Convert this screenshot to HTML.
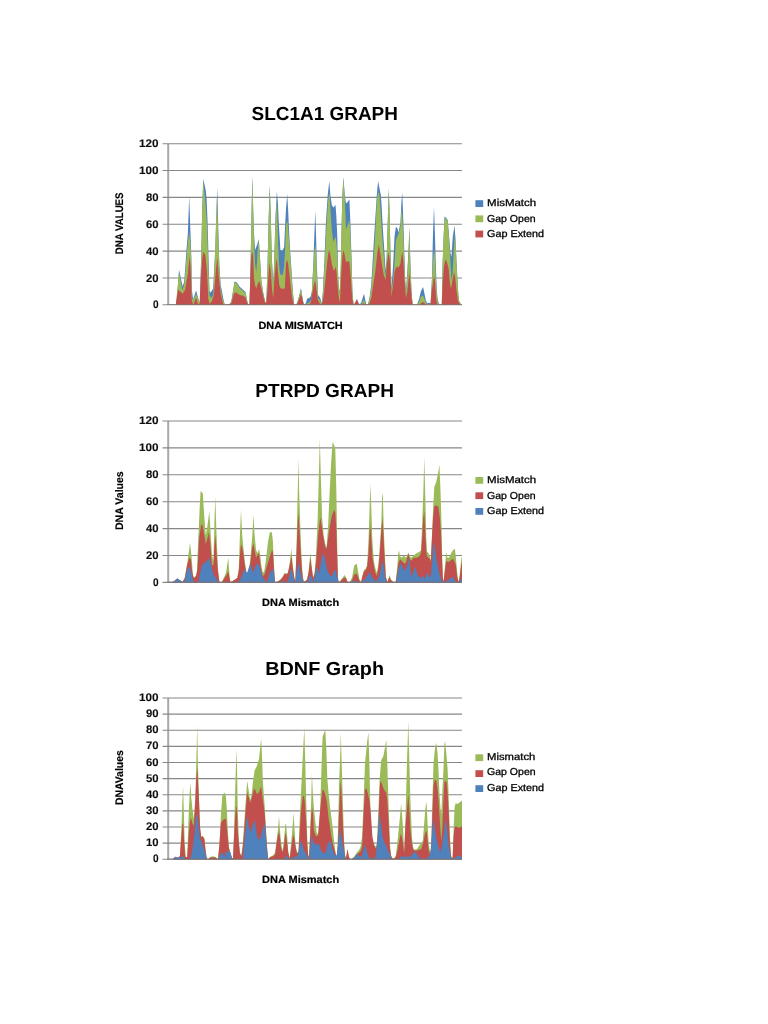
<!DOCTYPE html>
<html><head><meta charset="utf-8"><style>
html,body{margin:0;padding:0;background:#fff;width:768px;height:1024px;overflow:hidden}
svg{display:block;font-family:"Liberation Sans",sans-serif;text-rendering:geometricPrecision}
</style></head><body>
<svg width="768" height="1024" viewBox="0 0 768 1024">
<defs><filter id="bl" x="0" y="0" width="1" height="1"><feGaussianBlur stdDeviation="0.4"/></filter></defs>
<rect width="768" height="1024" fill="#fff"/>
<g filter="url(#bl)">
<rect width="768" height="1024" fill="#fff"/>
<text x="251.6" y="119.5" font-size="19.0" font-weight="bold" textLength="146.29999999999998" lengthAdjust="spacingAndGlyphs" fill="#000">SLC1A1 GRAPH</text>
<line x1="168.2" y1="143.7" x2="168.2" y2="304.7" stroke="#a9a9a9" stroke-width="2"/>
<line x1="162.5" y1="143.7" x2="462" y2="143.7" stroke="#878787" stroke-width="1.1"/>
<line x1="162.5" y1="170.55" x2="462" y2="170.55" stroke="#878787" stroke-width="1.1"/>
<line x1="162.5" y1="197.4" x2="462" y2="197.4" stroke="#878787" stroke-width="1.1"/>
<line x1="162.5" y1="224.25" x2="462" y2="224.25" stroke="#878787" stroke-width="1.1"/>
<line x1="162.5" y1="251.10000000000002" x2="462" y2="251.10000000000002" stroke="#878787" stroke-width="1.1"/>
<line x1="162.5" y1="277.95" x2="462" y2="277.95" stroke="#878787" stroke-width="1.1"/>
<line x1="162.5" y1="304.8" x2="462" y2="304.8" stroke="#878787" stroke-width="1.1"/>
<polygon fill="#4f81bd" points="168.2,304.7 175.6,304.7 176.7,303.3 179.0,269.8 180.8,278.0 182.5,286.3 184.2,282.1 186.5,250.0 187.9,232.3 189.2,196.0 190.2,225.4 191.2,252.8 192.0,291.0 193.1,299.2 196.1,290.4 198.5,299.2 199.9,303.3 201.3,250.0 202.2,209.0 203.2,178.9 204.6,185.1 205.9,191.2 206.7,200.8 207.7,225.4 208.7,263.7 209.5,291.0 210.8,292.4 213.2,288.3 215.2,250.0 217.3,187.1 218.2,225.4 219.3,263.7 220.7,285.6 222.0,291.0 223.4,299.2 224.8,304.7 226.0,304.7 230.1,304.4 231.7,299.2 234.5,281.5 236.9,282.6 239.7,286.7 243.1,289.7 245.4,291.7 246.8,297.9 247.9,304.7 249.5,304.7 250.6,263.7 251.6,209.0 252.4,176.2 253.2,209.0 254.0,233.6 255.1,250.0 257.2,244.6 258.8,239.1 259.9,255.5 261.3,280.1 262.9,291.0 265.0,301.3 266.3,303.3 267.4,270.5 268.7,215.8 269.7,185.1 270.6,209.0 271.8,256.9 273.2,284.2 274.1,263.7 275.5,215.8 276.9,191.2 277.9,203.5 279.0,226.8 280.4,250.0 282.3,250.7 284.1,247.3 285.1,225.4 286.0,209.0 287.2,194.0 288.1,209.0 289.0,229.5 290.1,250.0 291.5,270.5 292.8,291.0 294.2,304.7 296.3,304.7 298.3,299.2 301.0,288.3 302.7,299.2 303.8,304.7 305.8,303.3 307.2,298.6 309.2,297.9 310.6,296.5 312.0,291.0 313.3,263.7 314.3,236.4 315.3,210.4 316.1,236.4 316.8,263.7 318.1,295.1 320.2,297.9 321.8,303.3 322.9,291.0 324.3,263.7 325.9,222.7 327.7,195.3 329.3,181.0 330.4,195.3 331.8,204.9 333.2,207.6 334.5,206.3 335.5,204.9 336.3,215.8 337.3,236.4 338.2,277.4 339.3,291.0 340.4,288.3 341.4,236.4 342.3,195.3 343.4,176.9 344.8,195.3 346.0,203.5 347.4,202.2 349.4,199.4 350.4,222.7 351.5,256.9 352.4,291.0 353.5,304.7 354.9,303.3 356.9,299.2 359.0,304.0 361.0,303.3 363.1,296.5 364.0,293.8 365.1,299.2 366.5,304.7 367.9,304.7 369.5,297.9 371.3,284.2 373.3,250.0 375.0,222.7 376.8,195.3 378.1,181.0 379.5,188.5 380.9,195.3 381.8,209.0 382.9,229.5 384.3,250.0 385.6,270.5 386.7,256.9 387.7,222.7 388.7,188.5 389.5,209.0 390.4,250.0 391.5,288.3 393.2,263.7 394.5,236.4 395.9,226.8 397.3,228.2 398.6,232.3 400.4,222.7 401.4,202.2 402.3,192.6 403.4,222.7 405.1,277.4 406.0,291.0 406.0,291.0 407.4,270.5 408.5,250.0 409.4,226.8 410.4,263.7 411.5,291.0 412.6,304.7 416.9,304.7 419.0,299.2 421.0,291.0 423.1,286.9 424.5,293.8 425.8,300.6 427.2,303.3 429.2,302.7 430.6,303.3 432.0,277.4 432.9,236.4 434.0,206.3 435.0,236.4 435.8,263.7 436.8,291.0 437.7,299.2 438.8,303.3 440.2,304.7 441.8,304.7 442.6,263.7 443.6,236.4 444.6,216.5 446.3,217.9 447.7,219.9 449.1,236.4 450.4,252.8 451.4,256.9 452.8,236.4 454.5,225.4 455.5,239.1 456.6,263.7 457.7,284.2 458.6,299.2 460.0,303.3 462.0,304.7"/>
<polygon fill="#9bbb59" points="168.2,304.7 175.8,304.7 179.0,272.6 181.0,282.8 182.5,290.4 184.5,282.8 187.2,250.0 189.0,232.3 190.1,240.5 191.3,258.2 192.0,297.9 193.3,299.9 196.1,293.8 198.5,299.9 200.2,303.3 201.3,252.8 202.2,211.7 203.2,181.0 204.3,191.2 205.6,204.9 207.0,225.4 208.4,266.4 209.5,295.1 211.1,297.9 213.2,295.1 215.2,250.0 216.9,195.3 217.9,225.4 219.3,263.7 220.7,288.3 222.7,299.2 224.8,304.7 226.0,304.7 230.1,304.4 231.7,299.5 234.5,282.1 236.9,283.5 239.7,288.3 243.1,290.8 245.4,293.1 246.8,298.6 247.9,304.7 249.5,304.7 250.6,263.7 251.6,209.0 252.4,176.9 253.2,210.4 254.0,239.1 255.1,263.7 256.3,271.9 257.7,250.0 258.8,240.5 259.9,256.9 261.3,280.1 262.9,291.0 265.0,301.7 266.3,303.3 267.4,270.5 268.7,219.9 269.7,187.1 270.6,211.7 271.8,258.2 273.2,285.6 274.1,266.4 275.5,219.9 276.9,198.1 277.9,236.4 279.0,263.7 280.0,273.3 281.4,275.3 282.7,274.6 284.1,266.4 285.1,250.0 286.0,225.4 287.1,219.9 288.1,228.2 289.4,244.6 290.8,263.7 292.2,284.2 293.5,299.2 294.2,304.7 296.3,304.7 298.3,299.2 301.0,289.0 302.7,299.2 303.8,304.7 305.8,304.4 307.2,303.3 309.2,302.7 311.3,299.2 312.7,277.4 314.0,255.5 315.1,244.6 316.1,252.8 317.0,277.4 318.1,297.9 320.2,300.6 321.8,304.0 322.9,293.8 324.6,263.7 326.3,229.5 328.0,202.2 329.3,191.2 330.4,209.0 331.8,229.5 333.2,241.8 334.5,239.1 335.5,236.4 336.6,244.6 337.7,263.7 338.6,284.2 339.6,293.8 340.7,263.7 342.0,209.0 343.4,177.6 344.8,198.1 346.0,229.5 347.4,225.4 349.4,219.9 350.4,236.4 351.5,261.0 352.4,291.0 353.5,304.7 354.9,304.0 356.9,300.6 359.0,304.4 361.0,304.4 363.1,301.3 364.0,299.2 365.1,302.7 366.5,304.7 367.9,304.7 369.5,299.2 371.3,288.3 373.3,263.7 375.0,236.4 376.8,202.2 378.1,191.2 379.5,195.3 380.9,215.8 382.2,236.4 383.6,252.8 385.6,277.4 386.7,256.9 387.7,222.7 388.7,188.5 389.5,209.0 390.4,250.0 391.5,291.0 393.2,280.1 394.5,263.7 395.9,240.5 397.3,236.4 398.6,233.6 400.4,226.8 401.4,209.0 402.3,215.8 403.4,236.4 405.1,280.1 406.0,292.4 406.0,292.4 407.4,274.6 408.5,255.5 409.4,228.2 410.4,265.1 411.5,292.4 412.6,304.7 416.9,304.7 419.0,302.0 421.0,296.5 423.1,295.8 424.5,299.2 425.8,302.7 427.2,304.0 430.6,304.0 431.7,284.2 432.9,263.7 434.0,248.7 435.0,256.9 435.8,277.4 436.8,295.1 438.1,303.3 440.2,304.7 441.8,304.7 442.6,263.7 443.6,236.4 444.6,217.2 446.3,219.3 447.7,221.3 449.1,239.1 450.4,261.0 451.4,280.1 452.5,274.6 453.8,250.0 454.9,233.6 455.9,250.0 456.9,270.5 457.9,288.3 459.3,302.0 462.0,304.7"/>
<polygon fill="#c0504d" points="168.2,304.7 175.8,304.7 178.0,289.7 180.4,291.7 182.7,293.8 185.1,289.7 187.9,273.3 189.5,256.2 190.6,266.4 191.7,299.2 193.1,304.7 194.0,303.3 196.1,297.2 197.7,303.3 199.5,304.7 200.9,277.4 202.2,258.2 203.6,251.7 205.4,255.5 207.0,271.9 208.4,299.2 209.7,304.0 211.8,301.3 213.8,295.1 215.9,270.5 217.3,256.9 218.6,274.6 220.7,293.8 223.4,304.7 226.0,304.7 231.5,303.3 232.8,297.2 234.5,292.4 236.9,293.1 239.7,295.1 243.1,295.8 245.4,297.2 247.2,302.7 248.6,304.7 249.5,304.7 250.3,277.4 251.3,255.5 252.0,251.4 253.1,255.5 254.0,277.4 255.1,285.6 256.3,288.3 258.1,282.8 259.5,281.5 261.3,288.3 262.9,295.1 265.0,302.7 266.3,303.3 267.4,291.0 268.7,271.9 269.7,262.3 270.8,271.9 272.2,291.0 273.2,297.9 274.5,277.4 275.9,263.7 276.9,258.2 277.9,271.9 279.3,285.6 280.7,288.3 282.7,289.0 284.8,288.3 286.0,263.7 287.1,259.6 288.1,263.7 289.4,274.6 290.8,286.9 292.2,297.9 293.5,303.3 294.9,304.7 296.9,304.7 299.0,299.2 301.0,293.8 302.4,299.2 303.8,304.7 305.8,304.4 307.9,304.4 310.6,303.3 312.7,291.0 314.0,284.2 315.1,280.1 316.3,288.3 317.7,299.2 319.5,303.3 321.8,304.4 323.2,299.2 325.0,284.2 327.0,263.7 328.4,252.8 329.5,250.0 330.4,255.5 331.8,263.7 333.2,269.2 334.5,270.5 335.5,266.4 336.6,271.9 337.7,286.9 339.0,299.2 340.0,302.0 341.0,277.4 342.3,256.9 343.4,250.0 344.8,255.5 346.0,262.3 348.1,261.0 349.4,262.3 350.8,277.4 352.2,297.9 353.5,304.7 354.9,303.3 356.9,299.2 359.0,304.7 361.0,304.7 363.1,303.3 365.1,304.0 367.9,304.7 369.5,303.3 371.3,297.9 373.3,284.2 375.4,270.5 377.4,252.8 378.8,244.6 380.2,252.8 381.8,263.7 383.6,274.6 385.6,280.1 387.0,263.7 388.4,252.8 389.5,256.9 390.4,270.5 391.5,296.5 393.2,284.2 394.5,271.9 395.9,267.8 397.3,266.4 398.6,267.8 400.4,263.7 401.4,256.9 402.3,251.4 403.4,261.0 405.1,288.3 406.0,297.9 406.0,297.9 407.4,291.0 408.5,280.1 409.4,273.3 410.4,284.2 411.5,297.9 412.6,304.7 416.9,304.7 419.0,304.7 421.0,303.3 423.1,302.0 424.5,303.3 426.5,304.7 430.6,304.7 431.7,291.0 432.9,284.2 434.0,276.0 435.0,280.1 436.1,297.9 437.4,304.7 441.8,304.7 442.6,284.2 444.0,266.4 445.4,259.6 447.0,262.3 448.7,269.2 450.0,284.2 451.1,288.3 452.5,280.1 454.1,271.9 455.2,277.4 456.6,291.0 457.9,300.6 460.0,304.7 462.0,304.7"/>
<line x1="167.2" y1="304.5" x2="462" y2="304.5" stroke="#7a6a6a" stroke-opacity="0.6" stroke-width="1.2"/>
<text x="139.0" y="147.3" font-size="11" font-weight="bold" textLength="19.6" lengthAdjust="spacingAndGlyphs" fill="#111" stroke="#111" stroke-width="0.12">120</text>
<text x="139.0" y="174.2" font-size="11" font-weight="bold" textLength="19.6" lengthAdjust="spacingAndGlyphs" fill="#111" stroke="#111" stroke-width="0.12">100</text>
<text x="146.0" y="201.0" font-size="11" font-weight="bold" textLength="12.6" lengthAdjust="spacingAndGlyphs" fill="#111" stroke="#111" stroke-width="0.12">80</text>
<text x="146.0" y="227.8" font-size="11" font-weight="bold" textLength="12.6" lengthAdjust="spacingAndGlyphs" fill="#111" stroke="#111" stroke-width="0.12">60</text>
<text x="146.0" y="254.7" font-size="11" font-weight="bold" textLength="12.6" lengthAdjust="spacingAndGlyphs" fill="#111" stroke="#111" stroke-width="0.12">40</text>
<text x="146.0" y="281.6" font-size="11" font-weight="bold" textLength="12.6" lengthAdjust="spacingAndGlyphs" fill="#111" stroke="#111" stroke-width="0.12">20</text>
<text x="153.0" y="308.4" font-size="11" font-weight="bold" textLength="5.6" lengthAdjust="spacingAndGlyphs" fill="#111" stroke="#111" stroke-width="0.12">0</text>
<text transform="translate(123.4,254.2) rotate(-90)" x="0" y="0" font-size="11" font-weight="bold" textLength="61.7" lengthAdjust="spacingAndGlyphs" fill="#000" stroke="#000" stroke-width="0.15">DNA VALUES</text>
<text x="258.5" y="329.3" font-size="10.4" font-weight="bold" textLength="84.2" lengthAdjust="spacingAndGlyphs" fill="#000" stroke="#000" stroke-width="0.2">DNA MISMATCH</text>
<rect x="475.4" y="200.2" width="7.8" height="6.8" fill="#4f81bd"/>
<text x="487.1" y="206.3" font-size="10" textLength="49.1" lengthAdjust="spacingAndGlyphs" fill="#000" stroke="#000" stroke-width="0.3">MisMatch</text>
<rect x="475.4" y="215.4" width="7.8" height="6.8" fill="#9bbb59"/>
<text x="487.1" y="221.6" font-size="10" textLength="48.5" lengthAdjust="spacingAndGlyphs" fill="#000" stroke="#000" stroke-width="0.3">Gap Open</text>
<rect x="475.4" y="230.6" width="7.8" height="6.8" fill="#c0504d"/>
<text x="487.1" y="236.6" font-size="10" textLength="56.9" lengthAdjust="spacingAndGlyphs" fill="#000" stroke="#000" stroke-width="0.3">Gap Extend</text>
<text x="255.3" y="396.5" font-size="19.0" font-weight="bold" textLength="138.59999999999997" lengthAdjust="spacingAndGlyphs" fill="#000">PTRPD GRAPH</text>
<line x1="168.2" y1="421.0" x2="168.2" y2="582.4" stroke="#a9a9a9" stroke-width="2"/>
<line x1="162.5" y1="421.0" x2="462" y2="421.0" stroke="#878787" stroke-width="1.1"/>
<line x1="162.5" y1="447.9" x2="462" y2="447.9" stroke="#878787" stroke-width="1.1"/>
<line x1="162.5" y1="474.8" x2="462" y2="474.8" stroke="#878787" stroke-width="1.1"/>
<line x1="162.5" y1="501.7" x2="462" y2="501.7" stroke="#878787" stroke-width="1.1"/>
<line x1="162.5" y1="528.6" x2="462" y2="528.6" stroke="#878787" stroke-width="1.1"/>
<line x1="162.5" y1="555.5" x2="462" y2="555.5" stroke="#878787" stroke-width="1.1"/>
<line x1="162.5" y1="582.4" x2="462" y2="582.4" stroke="#878787" stroke-width="1.1"/>
<polygon fill="#9bbb59" points="168.2,582.4 172.0,582.3 174.3,581.1 177.3,578.6 180.3,580.4 182.5,581.9 184.8,577.4 187.1,563.8 190.1,542.8 191.6,557.8 193.1,575.9 194.6,578.9 196.8,572.8 198.3,538.3 199.8,505.2 200.6,490.9 202.8,493.2 204.3,517.2 205.8,535.3 207.4,526.2 209.3,511.2 210.4,529.2 211.9,553.3 213.4,562.3 214.4,523.2 215.3,496.2 216.4,530.7 217.9,568.3 219.4,581.9 221.6,582.4 223.9,577.4 226.0,572.8 228.3,557.8 229.3,572.8 230.5,581.9 232.8,581.1 235.0,579.6 237.3,578.1 238.8,568.3 239.8,538.3 241.0,509.7 242.2,535.3 243.3,547.3 244.8,560.8 246.3,571.3 247.8,577.4 249.3,568.3 250.8,553.3 252.3,535.3 253.5,515.0 254.6,535.3 256.1,550.3 257.6,553.3 259.1,548.8 260.3,556.3 261.3,565.3 262.8,572.8 264.3,571.3 265.8,560.8 268.1,541.3 269.9,532.2 271.9,532.2 272.9,541.3 273.8,562.3 274.9,581.9 276.4,582.3 278.6,581.1 280.9,578.9 283.1,575.9 284.9,572.8 286.0,573.6 287.8,572.8 289.8,562.3 291.3,548.8 292.8,565.3 294.3,577.4 295.3,581.9 296.5,545.8 297.7,493.2 298.5,458.6 299.2,493.2 300.3,526.2 301.3,550.3 302.5,574.4 303.7,581.1 305.5,581.1 307.1,578.9 308.6,571.3 310.4,552.5 311.6,565.3 313.1,577.4 314.6,572.8 316.1,553.3 317.6,520.2 318.8,478.1 319.8,439.0 320.9,478.1 322.1,517.2 323.6,535.3 325.4,544.3 326.6,547.3 328.1,526.2 329.6,493.2 331.1,463.1 332.6,442.0 334.1,445.0 335.3,449.5 336.4,493.2 337.1,538.3 337.9,577.4 338.6,582.3 340.1,581.1 342.4,578.1 344.6,575.1 346.0,577.4 347.5,581.9 349.8,582.3 352.0,577.4 354.3,565.3 356.8,563.8 358.0,571.3 359.5,579.6 361.0,581.9 362.5,575.9 364.0,569.8 365.5,569.1 367.1,565.3 368.6,538.3 369.6,508.2 370.4,484.1 371.3,508.2 372.3,538.3 373.8,560.8 375.3,568.3 376.8,572.8 378.3,565.3 379.8,545.8 381.3,523.2 382.1,496.2 382.8,493.2 383.6,523.2 384.8,553.3 385.8,575.9 387.4,581.9 388.9,577.4 389.6,575.1 391.1,579.6 393.4,581.9 395.6,582.3 397.1,568.3 398.3,553.3 398.9,550.3 400.1,556.3 401.6,557.8 403.1,556.3 404.6,556.3 406.0,557.8 408.3,552.5 409.8,556.3 411.3,557.8 413.5,555.6 416.5,553.3 419.5,551.8 421.0,550.3 422.2,523.2 423.3,493.2 424.3,457.1 425.2,493.2 426.3,538.3 427.1,551.8 428.6,553.3 430.1,556.3 430.8,560.8 431.9,538.3 433.1,508.2 434.3,487.1 436.1,482.6 438.3,472.1 439.4,464.6 440.3,485.6 441.3,515.7 442.1,553.3 442.8,577.4 443.6,581.9 444.8,568.3 446.3,551.8 447.4,557.8 448.9,557.8 451.1,553.3 452.9,550.3 454.9,548.8 455.9,557.8 457.1,571.3 458.3,581.9 459.4,577.4 460.4,568.3 461.3,557.8 461.9,557.8 462.0,582.4"/>
<polygon fill="#c0504d" points="168.2,582.4 172.0,582.3 174.3,581.1 177.3,578.6 180.3,580.4 182.5,581.9 184.8,578.1 187.1,565.3 189.3,557.8 190.8,559.3 192.3,572.8 193.8,578.1 196.1,575.9 197.6,568.3 199.1,538.3 201.3,524.0 202.8,526.2 204.3,535.3 205.8,544.3 207.4,538.3 208.9,532.2 210.4,544.3 211.9,565.3 213.4,565.3 214.4,545.8 215.3,535.3 216.4,550.3 217.9,571.3 219.4,581.9 221.6,582.4 223.9,578.9 226.0,575.9 228.3,571.3 229.3,577.4 230.5,582.3 232.8,581.1 235.0,579.6 237.3,578.1 238.8,571.3 239.8,556.3 241.0,544.3 242.2,547.3 243.3,553.3 244.8,565.3 246.3,572.8 247.8,578.1 249.3,571.3 250.8,559.3 252.3,547.3 253.5,543.5 254.6,550.3 256.1,557.8 257.6,554.8 259.1,553.3 260.3,563.8 261.3,569.8 262.8,575.9 264.3,575.1 265.8,569.8 268.1,562.3 270.4,554.8 271.9,550.3 272.9,551.8 273.8,565.3 274.9,581.9 276.4,582.3 278.6,581.1 280.9,579.6 283.1,576.6 284.9,573.6 286.0,574.4 287.8,573.6 289.8,565.3 291.3,556.3 292.8,568.3 294.3,578.1 295.3,581.9 296.5,553.3 297.7,523.2 298.5,512.7 299.5,530.7 300.6,550.3 301.8,568.3 302.8,577.4 303.7,581.9 305.5,581.1 307.1,579.6 308.6,572.8 310.4,557.8 311.6,568.3 313.1,578.1 314.6,574.4 316.1,562.3 317.6,541.3 319.1,526.2 320.3,517.2 321.8,526.2 323.6,538.3 325.1,547.3 326.6,548.8 328.1,538.3 329.9,526.2 331.9,515.7 334.1,509.7 335.3,512.7 336.4,530.7 337.1,553.3 337.9,577.4 338.6,582.3 340.1,581.6 342.4,578.9 344.6,577.4 346.0,578.1 347.5,581.9 349.8,582.3 352.0,580.4 354.3,574.4 356.5,573.6 358.0,576.6 359.5,581.1 361.0,581.9 362.5,575.9 364.0,571.3 365.5,570.6 367.1,566.8 368.6,553.3 369.8,529.2 370.4,526.2 371.3,538.3 372.3,556.3 373.8,565.3 375.3,572.8 376.8,575.9 378.3,568.3 379.8,553.3 381.3,530.7 382.4,517.2 383.6,538.3 384.8,560.8 385.8,577.4 387.4,581.9 388.9,578.1 389.6,577.4 391.1,580.4 393.4,581.9 395.6,582.3 397.1,572.8 398.6,562.3 400.1,559.3 401.6,560.8 403.1,562.3 404.6,563.8 406.0,562.3 408.3,553.3 409.8,559.3 411.3,560.8 413.5,557.8 416.5,557.8 419.5,556.3 421.0,553.3 422.2,538.3 423.3,517.2 424.3,511.2 425.2,530.7 426.3,551.8 427.1,556.3 428.6,557.8 430.1,559.3 430.8,562.3 431.9,538.3 433.1,517.2 434.3,506.7 436.1,505.2 438.3,506.7 439.8,517.2 440.9,530.7 441.8,553.3 442.8,577.4 443.6,581.9 444.8,571.3 446.3,560.8 448.1,562.3 450.4,560.8 451.9,559.3 453.4,559.3 454.9,562.3 455.9,565.3 457.1,575.9 458.3,581.9 459.4,578.9 460.4,571.3 461.3,563.8 461.9,562.3 462.0,582.4"/>
<polygon fill="#4f81bd" points="168.2,582.4 172.0,582.3 174.3,581.1 177.3,578.6 180.3,580.4 182.5,581.9 184.8,581.1 186.3,572.8 188.6,566.8 190.1,568.3 191.6,574.4 193.1,580.4 194.6,582.3 198.3,582.3 199.8,574.4 202.1,565.3 205.1,562.3 207.4,560.8 208.9,557.8 209.9,560.8 211.1,565.3 213.4,574.4 215.6,577.4 217.9,581.9 220.1,582.3 223.9,582.3 226.0,582.3 230.5,582.3 238.0,582.3 239.5,580.4 241.0,577.4 242.5,574.4 244.0,569.8 245.5,571.3 247.1,572.8 248.6,568.3 250.1,563.8 251.6,568.3 253.1,572.8 254.6,568.3 256.1,564.6 257.6,563.8 259.1,565.3 260.6,569.8 262.1,575.9 264.3,579.6 266.6,581.9 268.1,578.9 269.6,572.8 271.1,571.3 272.6,568.3 273.8,572.8 274.9,581.9 280.1,582.3 283.1,581.1 284.9,581.9 286.0,582.3 287.5,581.9 289.8,574.4 291.3,568.3 292.8,574.4 294.3,581.1 295.3,581.9 296.5,572.8 297.7,565.3 298.8,563.8 300.3,571.3 301.8,577.4 303.3,581.9 305.5,582.3 307.1,581.9 308.6,578.9 310.1,575.1 311.6,577.4 313.1,581.9 314.6,577.4 316.1,569.8 317.6,566.8 319.1,574.4 320.6,565.3 322.1,556.3 323.6,553.3 325.4,560.8 326.9,568.3 328.4,572.8 330.4,575.9 331.9,575.9 333.4,572.8 334.9,569.8 336.4,572.8 337.4,577.4 338.6,582.3 341.6,582.3 344.6,582.3 346.0,582.3 349.8,582.3 352.0,581.1 355.0,581.1 358.0,581.9 361.0,582.3 362.5,581.1 364.8,579.6 367.1,575.9 369.3,572.1 370.8,574.4 372.3,577.4 373.8,579.6 375.3,581.1 377.6,579.6 379.8,574.4 381.8,563.8 382.8,560.8 383.9,568.3 385.1,577.4 386.6,582.3 395.6,582.3 397.1,577.4 398.6,568.3 400.1,565.3 401.6,563.8 403.1,568.3 404.6,571.3 406.0,568.3 407.5,565.3 409.0,557.8 410.2,568.3 411.3,577.4 413.5,571.3 415.0,566.8 416.5,571.3 418.0,575.9 420.3,577.4 421.8,577.4 423.3,575.9 424.8,578.9 426.3,574.4 427.8,572.8 429.3,577.4 430.8,575.9 432.3,560.8 433.4,542.8 434.6,545.8 436.1,556.3 437.6,565.3 439.1,572.8 440.9,578.9 442.8,581.9 444.3,581.9 446.6,581.1 448.9,579.6 451.1,578.1 452.6,576.6 454.1,579.6 456.4,581.9 458.6,582.3 460.1,581.1 461.9,578.1 462.0,582.4"/>
<line x1="167.2" y1="582.2" x2="462" y2="582.2" stroke="#7a6a6a" stroke-opacity="0.6" stroke-width="1.2"/>
<text x="139.0" y="424.1" font-size="11" font-weight="bold" textLength="19.6" lengthAdjust="spacingAndGlyphs" fill="#111" stroke="#111" stroke-width="0.12">120</text>
<text x="139.0" y="451.0" font-size="11" font-weight="bold" textLength="19.6" lengthAdjust="spacingAndGlyphs" fill="#111" stroke="#111" stroke-width="0.12">100</text>
<text x="146.0" y="477.9" font-size="11" font-weight="bold" textLength="12.6" lengthAdjust="spacingAndGlyphs" fill="#111" stroke="#111" stroke-width="0.12">80</text>
<text x="146.0" y="504.8" font-size="11" font-weight="bold" textLength="12.6" lengthAdjust="spacingAndGlyphs" fill="#111" stroke="#111" stroke-width="0.12">60</text>
<text x="146.0" y="531.7" font-size="11" font-weight="bold" textLength="12.6" lengthAdjust="spacingAndGlyphs" fill="#111" stroke="#111" stroke-width="0.12">40</text>
<text x="146.0" y="558.6" font-size="11" font-weight="bold" textLength="12.6" lengthAdjust="spacingAndGlyphs" fill="#111" stroke="#111" stroke-width="0.12">20</text>
<text x="153.0" y="585.5" font-size="11" font-weight="bold" textLength="5.6" lengthAdjust="spacingAndGlyphs" fill="#111" stroke="#111" stroke-width="0.12">0</text>
<text transform="translate(122.9,530.0) rotate(-90)" x="0" y="0" font-size="11" font-weight="bold" textLength="58.7" lengthAdjust="spacingAndGlyphs" fill="#000" stroke="#000" stroke-width="0.15">DNA Values</text>
<text x="262" y="606.3" font-size="10.4" font-weight="bold" textLength="77.2" lengthAdjust="spacingAndGlyphs" fill="#000" stroke="#000" stroke-width="0.2">DNA Mismatch</text>
<rect x="475.4" y="477.0" width="7.8" height="6.8" fill="#9bbb59"/>
<text x="487.1" y="483.2" font-size="10" textLength="49.1" lengthAdjust="spacingAndGlyphs" fill="#000" stroke="#000" stroke-width="0.3">MisMatch</text>
<rect x="475.4" y="492.3" width="7.8" height="6.8" fill="#c0504d"/>
<text x="487.1" y="498.6" font-size="10" textLength="48.5" lengthAdjust="spacingAndGlyphs" fill="#000" stroke="#000" stroke-width="0.3">Gap Open</text>
<rect x="475.4" y="508.0" width="7.8" height="6.8" fill="#4f81bd"/>
<text x="487.1" y="513.8" font-size="10" textLength="56.9" lengthAdjust="spacingAndGlyphs" fill="#000" stroke="#000" stroke-width="0.3">Gap Extend</text>
<text x="265.3" y="674.5" font-size="19.0" font-weight="bold" textLength="118.69999999999999" lengthAdjust="spacingAndGlyphs" fill="#000">BDNF Graph</text>
<line x1="168.2" y1="698.0" x2="168.2" y2="859.3" stroke="#a9a9a9" stroke-width="2"/>
<line x1="162.5" y1="698.0" x2="462" y2="698.0" stroke="#878787" stroke-width="1.1"/>
<line x1="162.5" y1="714.13" x2="462" y2="714.13" stroke="#878787" stroke-width="1.1"/>
<line x1="162.5" y1="730.26" x2="462" y2="730.26" stroke="#878787" stroke-width="1.1"/>
<line x1="162.5" y1="746.39" x2="462" y2="746.39" stroke="#878787" stroke-width="1.1"/>
<line x1="162.5" y1="762.52" x2="462" y2="762.52" stroke="#878787" stroke-width="1.1"/>
<line x1="162.5" y1="778.65" x2="462" y2="778.65" stroke="#878787" stroke-width="1.1"/>
<line x1="162.5" y1="794.78" x2="462" y2="794.78" stroke="#878787" stroke-width="1.1"/>
<line x1="162.5" y1="810.91" x2="462" y2="810.91" stroke="#878787" stroke-width="1.1"/>
<line x1="162.5" y1="827.04" x2="462" y2="827.04" stroke="#878787" stroke-width="1.1"/>
<line x1="162.5" y1="843.17" x2="462" y2="843.17" stroke="#878787" stroke-width="1.1"/>
<line x1="162.5" y1="859.3" x2="462" y2="859.3" stroke="#878787" stroke-width="1.1"/>
<polygon fill="#9bbb59" points="168.2,859.3 172.6,859.2 175.5,856.7 177.7,857.7 179.9,856.3 181.4,829.2 182.4,799.9 183.1,786.7 183.9,814.5 184.7,843.8 185.8,857.0 187.2,857.0 188.7,814.5 189.7,792.6 190.5,782.3 191.2,797.0 192.4,808.7 193.8,818.9 195.3,799.9 196.3,763.3 197.2,724.5 197.9,763.3 199.0,799.9 200.0,829.2 201.2,836.5 202.6,835.8 204.4,838.0 205.5,849.7 206.7,858.5 208.5,859.2 209.9,857.0 212.9,856.3 215.8,857.0 218.0,859.2 219.5,843.8 220.9,814.5 222.4,795.5 224.6,792.6 226.0,797.0 226.7,807.2 227.8,829.2 228.9,846.8 230.4,852.6 231.9,857.7 233.0,858.5 234.1,829.2 235.1,792.6 236.0,763.3 236.5,749.4 237.1,770.6 237.7,807.2 238.9,840.9 239.9,852.6 241.4,855.5 242.8,843.8 244.3,821.9 245.8,799.9 247.2,780.8 248.7,791.1 250.2,799.9 251.6,794.0 253.1,780.8 254.6,770.6 256.8,766.2 259.0,758.9 260.4,745.7 261.2,739.1 261.9,753.0 262.9,782.3 263.8,794.0 264.8,807.2 265.8,826.3 267.0,846.8 268.2,859.2 269.9,857.0 272.9,855.5 275.1,852.6 276.5,840.9 278.0,829.2 279.0,816.0 279.9,829.2 280.9,840.9 282.4,851.2 283.9,840.9 285.3,824.8 286.0,823.3 287.2,836.5 288.2,851.2 289.7,858.5 291.1,843.8 292.6,826.3 293.6,813.1 294.5,829.2 295.5,843.8 297.0,852.6 298.5,851.2 299.9,814.5 301.4,785.2 302.8,755.9 304.3,728.1 305.3,763.3 306.2,799.9 307.2,836.5 308.3,857.0 309.1,854.1 310.2,829.2 311.2,799.9 311.9,773.5 312.8,792.6 313.8,807.2 315.3,821.9 316.8,833.6 318.2,833.6 320.0,814.5 321.4,770.6 322.6,736.9 324.1,732.5 325.3,730.3 326.3,748.6 327.3,777.9 328.5,792.6 329.9,805.7 331.4,817.5 332.9,829.2 334.3,843.8 335.8,854.1 337.0,855.5 338.0,829.2 339.0,785.2 340.2,755.9 340.8,732.5 341.7,763.3 342.8,799.9 343.9,836.5 344.9,854.1 346.0,858.5 347.5,849.0 348.9,857.0 350.4,859.2 352.6,858.5 354.8,855.5 357.0,852.6 359.2,849.7 360.6,846.8 362.1,836.5 363.6,799.9 365.0,763.3 367.2,741.3 368.4,732.5 369.4,763.3 370.2,799.9 371.2,829.2 372.4,840.9 373.8,843.8 375.3,846.8 376.8,843.8 378.2,814.5 379.7,777.9 381.2,760.3 383.4,755.9 384.8,748.6 386.3,739.8 387.3,763.3 388.2,792.6 389.2,821.9 389.9,843.8 391.1,855.5 392.6,858.5 394.3,858.5 395.8,855.5 397.3,843.8 398.7,829.2 400.2,814.5 401.1,803.5 402.0,814.5 403.1,829.2 404.2,852.6 405.3,821.9 406.0,798.4 407.2,755.9 408.3,720.8 409.2,755.9 410.4,799.9 411.9,836.5 413.3,848.2 414.8,849.7 417.0,849.0 418.5,846.8 420.6,843.8 422.8,840.9 424.3,821.9 425.5,807.2 426.5,801.4 427.5,821.9 428.7,843.8 430.2,852.6 431.2,843.8 432.4,799.9 433.5,763.3 435.0,748.6 436.3,742.8 437.5,753.0 438.5,770.6 439.4,792.6 440.4,807.2 441.2,814.5 442.3,792.6 443.4,770.6 444.4,744.2 445.1,741.3 446.3,753.0 447.7,770.6 448.8,799.9 449.9,836.5 451.1,855.5 452.6,858.5 453.6,829.2 454.6,807.2 455.8,802.8 457.3,804.3 459.0,802.8 460.9,801.4 462.0,800.6 462.0,859.3"/>
<polygon fill="#c0504d" points="168.2,859.3 172.6,859.2 175.5,856.7 177.7,857.7 179.9,856.3 181.4,836.5 182.4,823.3 183.3,824.8 184.3,843.8 185.3,857.0 187.2,857.0 188.7,836.5 189.7,823.3 190.9,817.5 192.4,823.3 193.8,826.3 195.3,799.9 196.3,777.9 197.2,767.7 197.9,777.9 199.0,799.9 200.0,826.3 201.2,837.2 202.6,836.5 204.4,839.4 205.5,849.7 206.7,858.5 208.5,859.2 209.9,857.7 212.9,857.3 215.8,857.7 218.0,859.2 219.5,843.8 220.9,823.3 222.4,820.4 224.6,818.9 226.0,818.9 226.7,826.3 227.8,838.0 228.9,848.2 230.4,853.4 231.9,857.7 233.0,858.5 234.1,836.5 235.1,817.5 236.0,807.2 236.5,805.7 237.1,814.5 237.7,829.2 238.9,843.8 239.9,853.4 241.4,856.3 242.8,846.8 244.3,829.2 245.8,807.2 247.2,792.6 248.7,797.0 250.2,802.8 251.6,798.4 253.1,792.6 254.6,788.2 256.8,794.0 259.0,792.6 260.4,788.2 261.2,786.7 261.9,792.6 262.9,799.9 263.8,805.7 264.8,814.5 265.8,829.2 267.0,846.8 268.2,859.2 269.9,857.3 272.9,856.3 275.1,854.8 276.5,843.8 278.0,835.0 279.0,832.1 279.9,836.5 280.9,846.8 282.4,852.6 283.9,846.8 285.3,833.6 286.0,835.0 287.2,843.8 288.2,852.6 289.7,858.5 291.1,848.2 292.6,838.0 293.6,835.0 294.5,839.4 295.5,846.8 297.0,853.4 298.5,852.6 299.9,829.2 301.4,807.2 302.8,797.0 303.9,795.5 305.0,802.8 306.2,821.9 307.2,843.8 308.3,857.0 309.1,855.5 310.2,836.5 311.2,814.5 312.1,807.2 313.1,814.5 313.8,829.2 315.3,835.0 316.8,836.5 318.2,835.0 319.7,814.5 321.2,799.9 322.6,789.6 324.1,791.1 325.5,795.5 327.0,802.8 328.5,817.5 329.9,826.3 331.4,836.5 332.9,843.8 334.3,848.2 335.8,854.8 337.0,856.3 338.0,843.8 339.0,814.5 340.2,788.2 340.8,780.8 341.7,797.0 342.8,821.9 343.9,843.8 344.9,855.5 346.0,858.5 347.5,849.0 348.9,857.0 350.4,859.2 352.6,858.5 354.8,857.0 357.0,854.1 359.2,852.6 360.6,851.2 362.1,846.8 363.6,814.5 365.0,789.6 366.5,788.2 368.0,794.0 369.4,799.9 370.9,814.5 372.4,836.5 373.8,843.8 375.3,848.2 376.8,846.8 378.2,829.2 379.7,788.2 380.4,780.8 381.9,783.8 383.4,788.2 384.8,791.1 386.3,792.6 387.3,799.9 388.2,814.5 389.2,832.1 389.9,848.2 391.1,856.3 392.6,858.5 394.3,858.5 395.8,857.0 397.3,851.2 398.7,843.8 400.2,836.5 401.1,833.6 402.0,838.0 403.1,843.8 404.2,853.4 405.3,829.2 406.0,820.4 407.2,807.2 408.3,794.0 409.2,807.2 410.4,829.2 411.9,843.8 413.3,849.7 414.8,850.4 417.0,850.4 419.2,849.7 421.4,849.0 423.6,840.9 425.0,833.6 426.5,830.6 427.5,839.4 428.7,849.7 430.2,854.8 431.2,846.8 432.4,814.5 433.5,785.2 435.0,779.4 436.3,780.8 437.5,788.2 438.5,799.9 439.4,814.5 440.4,829.2 441.2,840.9 442.3,829.2 443.4,799.9 444.4,782.3 445.5,780.8 446.7,782.3 447.7,794.0 448.8,814.5 449.9,843.8 451.1,857.0 452.6,858.5 453.6,836.5 454.6,827.7 455.8,826.3 457.3,827.0 459.0,827.7 460.9,827.0 462.0,826.3 462.0,859.3"/>
<polygon fill="#4f81bd" points="168.2,859.3 172.6,859.2 175.5,856.7 177.7,857.7 180.6,857.0 182.8,856.3 184.3,857.7 186.5,859.2 189.4,859.2 190.9,857.0 192.4,849.7 194.6,832.1 196.0,817.5 197.2,813.1 198.2,823.3 199.7,838.0 201.2,840.9 202.6,845.3 204.4,849.7 205.8,855.5 207.0,859.2 218.0,859.2 219.5,856.3 221.4,852.6 223.1,854.1 224.6,857.0 226.0,851.2 227.5,852.6 228.9,850.4 230.4,852.6 231.9,857.7 233.0,859.2 242.8,859.2 244.3,843.8 245.8,826.3 247.2,816.0 248.7,826.3 250.2,832.1 251.6,829.2 253.1,823.3 254.6,820.4 256.0,829.2 257.5,838.0 259.0,839.4 260.4,838.0 261.9,832.1 263.4,826.3 264.8,823.3 265.8,836.5 267.0,851.2 268.2,859.2 284.6,859.2 285.3,857.0 286.0,855.5 287.5,857.0 288.9,858.5 291.9,858.5 294.1,857.0 295.5,856.3 297.0,857.0 298.5,852.6 299.9,843.8 301.4,840.9 302.8,846.8 304.3,851.2 305.8,852.6 307.2,856.3 308.3,858.5 309.4,858.5 310.6,843.8 311.6,835.0 313.1,840.9 314.6,843.8 316.8,845.3 318.2,842.4 320.0,846.8 321.4,851.2 322.9,852.6 324.4,853.4 325.8,852.6 327.7,843.8 329.2,840.9 330.7,842.4 332.1,848.2 333.6,852.6 335.1,855.5 336.5,856.3 338.0,846.8 339.0,836.5 340.2,829.2 341.4,836.5 342.4,843.8 343.9,851.2 344.9,857.0 346.0,859.2 351.9,859.2 354.8,857.0 357.0,854.1 359.2,856.3 361.4,857.0 362.8,852.6 364.3,846.8 365.3,845.3 366.5,849.7 368.0,855.5 369.4,858.5 372.4,858.5 375.3,857.7 376.5,849.7 377.5,839.4 378.5,826.3 379.5,814.5 380.9,823.3 382.6,836.5 384.4,842.4 386.1,845.3 388.2,851.2 389.9,854.8 391.7,859.2 398.7,859.2 400.2,857.0 401.7,856.3 403.1,857.0 404.2,855.5 405.3,857.0 406.0,857.0 408.2,857.0 410.4,856.3 412.6,854.1 414.8,851.9 416.3,852.6 417.7,855.5 419.9,858.5 426.5,858.5 428.0,857.0 429.4,856.3 430.9,849.7 432.4,829.2 433.5,818.9 434.6,826.3 436.0,836.5 437.5,843.8 439.0,848.2 440.4,852.6 441.9,846.8 443.4,836.5 444.8,826.3 445.8,818.9 447.0,829.2 448.5,843.8 449.9,852.6 451.4,858.5 452.9,858.5 455.1,857.7 457.3,856.3 459.0,855.5 460.9,857.0 462.0,858.5 462.0,859.3"/>
<line x1="167.2" y1="859.1" x2="462" y2="859.1" stroke="#7a6a6a" stroke-opacity="0.6" stroke-width="1.2"/>
<text x="139.0" y="701.0" font-size="11" font-weight="bold" textLength="19.6" lengthAdjust="spacingAndGlyphs" fill="#111" stroke="#111" stroke-width="0.12">100</text>
<text x="146.0" y="717.1" font-size="11" font-weight="bold" textLength="12.6" lengthAdjust="spacingAndGlyphs" fill="#111" stroke="#111" stroke-width="0.12">90</text>
<text x="146.0" y="733.3" font-size="11" font-weight="bold" textLength="12.6" lengthAdjust="spacingAndGlyphs" fill="#111" stroke="#111" stroke-width="0.12">80</text>
<text x="146.0" y="749.4" font-size="11" font-weight="bold" textLength="12.6" lengthAdjust="spacingAndGlyphs" fill="#111" stroke="#111" stroke-width="0.12">70</text>
<text x="146.0" y="765.5" font-size="11" font-weight="bold" textLength="12.6" lengthAdjust="spacingAndGlyphs" fill="#111" stroke="#111" stroke-width="0.12">60</text>
<text x="146.0" y="781.6" font-size="11" font-weight="bold" textLength="12.6" lengthAdjust="spacingAndGlyphs" fill="#111" stroke="#111" stroke-width="0.12">50</text>
<text x="146.0" y="797.8" font-size="11" font-weight="bold" textLength="12.6" lengthAdjust="spacingAndGlyphs" fill="#111" stroke="#111" stroke-width="0.12">40</text>
<text x="146.0" y="813.9" font-size="11" font-weight="bold" textLength="12.6" lengthAdjust="spacingAndGlyphs" fill="#111" stroke="#111" stroke-width="0.12">30</text>
<text x="146.0" y="830.0" font-size="11" font-weight="bold" textLength="12.6" lengthAdjust="spacingAndGlyphs" fill="#111" stroke="#111" stroke-width="0.12">20</text>
<text x="146.0" y="846.2" font-size="11" font-weight="bold" textLength="12.6" lengthAdjust="spacingAndGlyphs" fill="#111" stroke="#111" stroke-width="0.12">10</text>
<text x="153.0" y="862.3" font-size="11" font-weight="bold" textLength="5.6" lengthAdjust="spacingAndGlyphs" fill="#111" stroke="#111" stroke-width="0.12">0</text>
<text transform="translate(123.4,805.0) rotate(-90)" x="0" y="0" font-size="11" font-weight="bold" textLength="54.7" lengthAdjust="spacingAndGlyphs" fill="#000" stroke="#000" stroke-width="0.15">DNAValues</text>
<text x="262" y="882.6" font-size="10.4" font-weight="bold" textLength="77.2" lengthAdjust="spacingAndGlyphs" fill="#000" stroke="#000" stroke-width="0.2">DNA Mismatch</text>
<rect x="475.4" y="754.3" width="7.8" height="6.8" fill="#9bbb59"/>
<text x="487.1" y="760.2" font-size="10" textLength="48.2" lengthAdjust="spacingAndGlyphs" fill="#000" stroke="#000" stroke-width="0.3">Mismatch</text>
<rect x="475.4" y="770.2" width="7.8" height="6.8" fill="#c0504d"/>
<text x="487.1" y="775.4" font-size="10" textLength="48.5" lengthAdjust="spacingAndGlyphs" fill="#000" stroke="#000" stroke-width="0.3">Gap Open</text>
<rect x="475.4" y="785.2" width="7.8" height="6.8" fill="#4f81bd"/>
<text x="487.1" y="790.8" font-size="10" textLength="56.9" lengthAdjust="spacingAndGlyphs" fill="#000" stroke="#000" stroke-width="0.3">Gap Extend</text>
</g>
</svg>
</body></html>
